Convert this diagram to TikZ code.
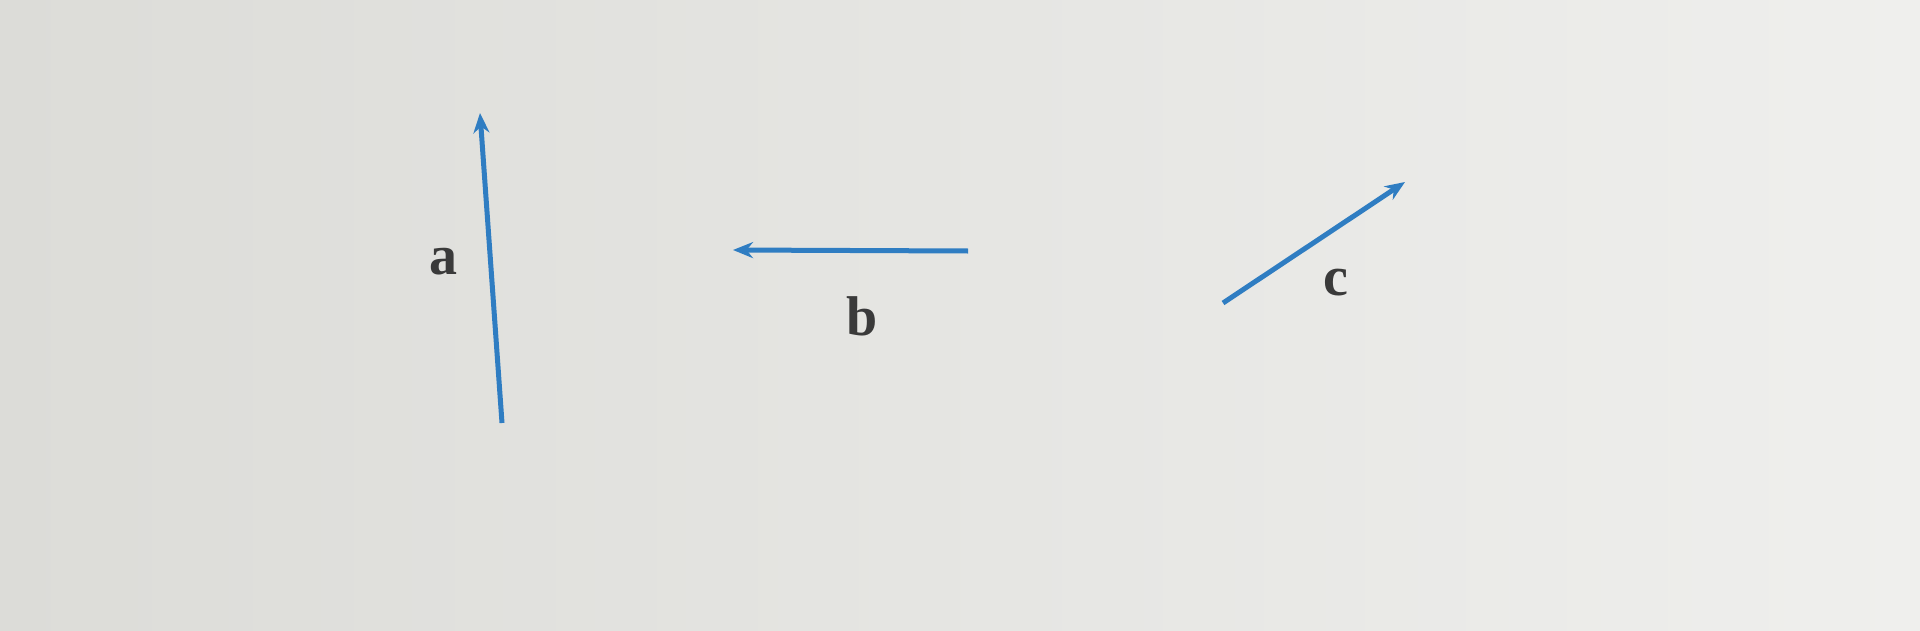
\documentclass[tikz,border=0pt]{standalone}
\usepackage{fontspec}
\setmainfont{Liberation Serif}
\usetikzlibrary{arrows.meta}
\definecolor{vecblue}{HTML}{2F7DC2}
\definecolor{bgleft}{HTML}{DCDCD8}
\definecolor{bgright}{HTML}{EFEFED}
\definecolor{labelgray}{HTML}{3A3A3A}
\tikzset{
  vec/.style={draw=vecblue, line width=2.5pt, -{Stealth[length=10pt,width=8pt]}},
  lbl/.style={font=\bfseries\fontsize{28}{30}\selectfont, text=labelgray, inner sep=0pt}
}
\begin{document}
\begin{tikzpicture}[x=0.5pt,y=-0.5pt]
\shade[left color=bgleft, right color=bgright] (0,0) rectangle (1920,631);
\useasboundingbox (0,0) rectangle (1920,631);
% vector a
\coordinate (a0) at (502,423);
\coordinate (a1) at (480,113);
\draw[vec] (a0) -- (a1);
\node[lbl] (la) at (443,262) {a};
% vector b
\coordinate (b0) at (968,251);
\coordinate (b1) at (733,250);
\draw[vec] (b0) -- (b1);
\node[lbl] (lb) at (862,316) {b};
% vector c
\coordinate (c0) at (1223,303);
\coordinate (c1) at (1405,182);
\draw[vec] (c0) -- (c1);
\node[lbl] (lc) at (1336,283) {c};
\end{tikzpicture}
\end{document}
